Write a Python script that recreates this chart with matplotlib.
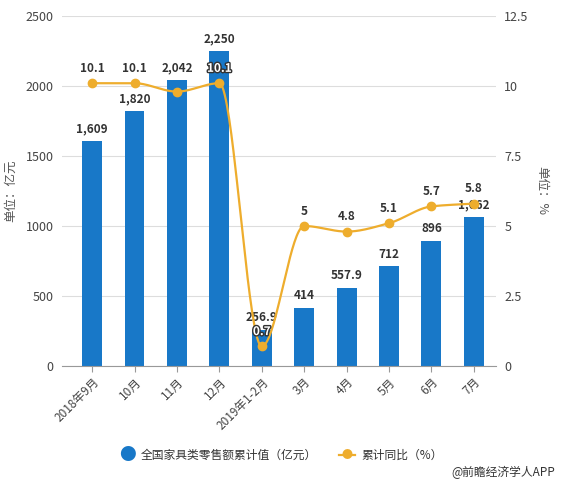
import matplotlib.pyplot as plt
import matplotlib.patheffects as pe
import numpy as np

plt.rcParams['font.family'] = ['Noto Sans CJK SC', 'DejaVu Sans']

months = ['2018年9月', '10月', '11月', '12月', '2019年1-2月', '3月', '4月', '5月', '6月', '7月']
sales = [1609, 1820, 2042, 2250, 256.9, 414, 557.9, 712, 896, 1062]
sales_labels = ['1,609', '1,820', '2,042', '2,250', '256.9', '414', '557.9', '712', '896', '1,062']
growth = [10.1, 10.1, 9.8, 10.1, 0.7, 5, 4.8, 5.1, 5.7, 5.8]
growth_labels = ['10.1', '10.1', '', '10.1', '0.7', '5', '4.8', '5.1', '5.7', '5.8']

bar_color = '#1878C8'
line_color = '#EEAD2D'
text_color = '#333333'


# monotone cubic curve through the points (flat at peaks and dips)
def smooth(x, y, n=40):
    x = np.asarray(x, float)
    y = np.asarray(y, float)
    h = np.diff(x)
    d = np.diff(y) / h
    m = np.zeros_like(y)
    for i in range(1, len(y) - 1):
        if d[i - 1] * d[i] > 0:
            m[i] = 2 * d[i - 1] * d[i] / (d[i - 1] + d[i])
    m[0], m[-1] = d[0], d[-1]
    xs, ys = [], []
    t = np.linspace(0, 1, n)
    for i in range(len(x) - 1):
        h00 = 2 * t ** 3 - 3 * t ** 2 + 1
        h10 = t ** 3 - 2 * t ** 2 + t
        h01 = -2 * t ** 3 + 3 * t ** 2
        h11 = t ** 3 - t ** 2
        xs.extend(x[i] + t * h[i])
        ys.extend(h00 * y[i] + h10 * h[i] * m[i] + h01 * y[i + 1] + h11 * h[i] * m[i + 1])
    return xs, ys


fig = plt.figure(figsize=(5.61, 4.91), dpi=100)
ax = fig.add_axes([0.1105, 0.2546, 0.7735, 0.7128])
ax2 = ax.twinx()

x = np.arange(len(months))
ax.bar(x, sales, width=0.47, color=bar_color, zorder=2)
for i, v in enumerate(sales):
    ax.annotate(sales_labels[i], (x[i], v), xytext=(0, 4), textcoords='offset points',
                ha='center', va='bottom', fontsize=8.5, fontweight='bold', color=text_color, zorder=5)

ax.set_ylim(0, 2500)
ax.set_yticks([0, 500, 1000, 1500, 2000, 2500])
ax.set_xlim(-0.71, 9.52)
ax.set_xticks(x)
ax.set_xticklabels(months, rotation=45, ha='right', rotation_mode='anchor', fontsize=8.5, color='#444444')
ax.grid(axis='y', color='#DDDDDD', linewidth=0.8, zorder=0)
ax.set_axisbelow(True)
for s in ['top', 'right', 'left']:
    ax.spines[s].set_visible(False)
ax.spines['bottom'].set_color('#999999')
ax.tick_params(axis='y', length=0, labelsize=9, colors='#444444', pad=6)
ax.tick_params(axis='x', length=4, color='#999999', pad=3)
ax.set_ylabel('单位：亿元', fontsize=9, color='#555555', labelpad=6)

sx, sy = smooth(x, growth)
ax2.plot(sx, sy, color=line_color, linewidth=1.6, zorder=3)
ax2.plot(x, growth, 'o', color=line_color, markersize=6, zorder=4)
ax2.set_ylim(0, 12.5)
ax2.set_yticks([0, 2.5, 5, 7.5, 10, 12.5])
ax2.set_yticklabels(['0', '2.5', '5', '7.5', '10', '12.5'])
for s in ['top', 'right', 'left', 'bottom']:
    ax2.spines[s].set_visible(False)
ax2.tick_params(axis='y', length=0, labelsize=9, colors='#444444', pad=6)
ax2.set_ylabel('单位：%', fontsize=9, color='#555555', rotation=270, labelpad=14)
for i, v in enumerate(growth):
    if not growth_labels[i]:
        continue
    over_bar = i in (3, 4)
    ax2.annotate(growth_labels[i], (x[i], v), xytext=(0, 6), textcoords='offset points',
                 ha='center', va='bottom', fontsize=8.5, fontweight='bold',
                 color='white' if over_bar else text_color, zorder=6,
                 path_effects=[pe.withStroke(linewidth=2, foreground=text_color)] if over_bar else None)

# legend
fig.text(0.228, 0.073, '●', color=bar_color, fontsize=12, ha='center', va='center')
fig.text(0.250, 0.073, '全国家具类零售额累计值（亿元）', fontsize=8.5, color='#333333', va='center')
fig.lines.append(plt.Line2D([0.605, 0.632], [0.073, 0.073], color=line_color, linewidth=1.6,
                            transform=fig.transFigure))
fig.text(0.6185, 0.073, '●', color=line_color, fontsize=8, ha='center', va='center')
fig.text(0.645, 0.073, '累计同比（%）', fontsize=8.5, color='#333333', va='center')
fig.text(0.99, 0.037, '@前瞻经济学人APP', fontsize=8.5, color='#333333', ha='right', va='center')

fig.savefig('out.png', dpi=100)
